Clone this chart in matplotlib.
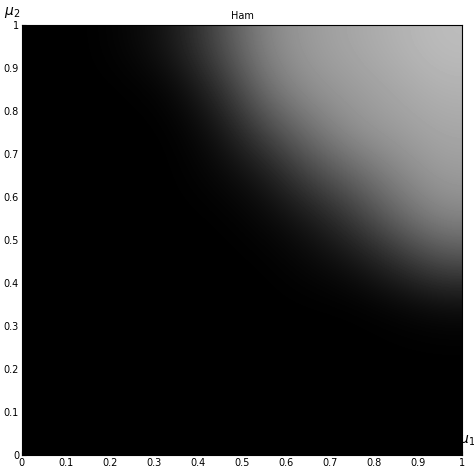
import numpy as np
import matplotlib
matplotlib.use("Agg")
import matplotlib.pyplot as plt

x_centers = [0.05,0.15,0.25,0.35,0.45,0.55,0.65,0.75,0.85,0.95]
y_centers = [0.05,0.15,0.25,0.35,0.45,0.55,0.65,0.75,0.85,0.95]
row_005 = [0,0,0,0,0,0,0,0,0,0]
row_015 = [0,0,0,0,0,0,0,0,0,0]
row_025 = [0,0,0,0,0,0,0,0,0,0]
row_035 = [0,0,0,0,0,0,0,0,0.02,0.05]
row_045 = [0,0,0,0,0,0,0.03,0.08,0.2,0.35]
row_055 = [0,0,0,0,0,0.03,0.1,0.25,0.45,0.6]
row_065 = [0,0,0,0,0.03,0.1,0.3,0.45,0.6,0.7]
row_075 = [0,0,0,0,0.08,0.3,0.5,0.65,0.7,0.75]
row_085 = [0,0,0,0.03,0.2,0.5,0.65,0.7,0.75,0.8]
row_095 = [0,0,0.03,0.12,0.35,0.6,0.7,0.75,0.8,0.85]
grid = np.array([row_005,row_015,row_025,row_035,row_045,row_055,row_065,row_075,row_085,row_095])

fig = plt.figure(figsize=(4.74,4.72), dpi=100)
ax = fig.add_axes([0.046,0.036,0.929,0.911])
ax.imshow(grid, cmap="gray", vmin=0, vmax=1.15, origin="lower",
          extent=[0,1,0,1], interpolation="bicubic", aspect="auto")
ax.set_xlim(0,1); ax.set_ylim(0,1)
t = np.round(np.arange(0,1.01,0.1),1)
ax.set_xticks(t); ax.set_yticks(t)
ax.set_xticklabels(["0"]+[str(v) for v in t[1:-1]]+["1"], fontsize=7)
ax.set_yticklabels(["0"]+[str(v) for v in t[1:-1]]+["1"], fontsize=7)
ax.tick_params(direction="in", length=3, pad=2)
ax.set_title("Ham", fontsize=7, pad=4)
fig.text(0.968, 0.062, r"$\mu_1$", fontsize=10, ha="left")
fig.text(0.008, 0.968, r"$\mu_2$", fontsize=10, ha="left")
fig.savefig("out.png", dpi=100)
